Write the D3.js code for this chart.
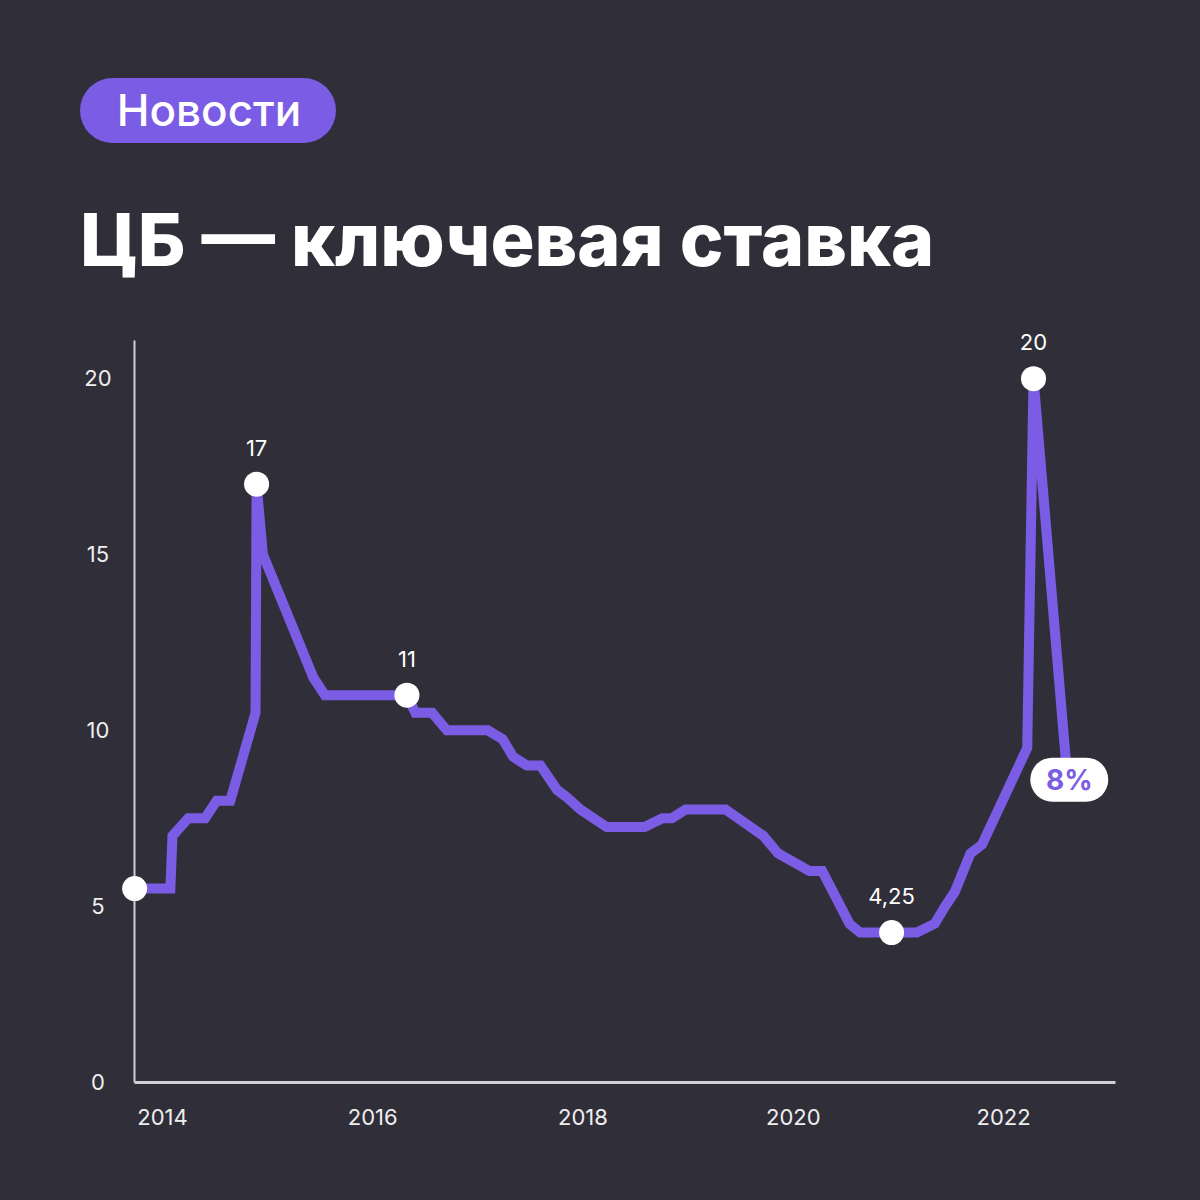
<!DOCTYPE html>
<html>
<head>
<meta charset="utf-8">
<script src="https://cdn.jsdelivr.net/npm/d3@7/dist/d3.min.js"></script>
<style>
  html, body { margin: 0; padding: 0; background: #302f39; }
  svg { display: block; }
</style>
</head>
<body>
<svg id="chart" width="1200" height="1200"></svg>
<script>
// ---- data (decimal year, key rate %) ----
const years = [2013.74, 2014.08, 2014.10, 2014.25, 2014.41, 2014.52, 2014.65, 2014.89, 2014.90,
  2014.96, 2015.44, 2015.55, 2016.33, 2016.41, 2016.57, 2016.71, 2017.10, 2017.24, 2017.34,
  2017.47, 2017.60, 2017.76, 2017.85, 2017.98, 2018.23, 2018.59, 2018.76, 2018.85, 2018.98,
  2019.36, 2019.72, 2019.86, 2020.16, 2020.28, 2020.54, 2020.64, 2020.94, 2021.18, 2021.35,
  2021.45, 2021.54, 2021.69, 2021.80, 2022.23, 2022.29, 2022.63];
const rates = [5.5, 5.5, 7, 7.5, 7.5, 8, 8, 10.5, 17,
  15, 11.5, 11, 11, 10.5, 10.5, 10, 10, 9.75, 9.25,
  9, 9, 8.3, 8.1, 7.75, 7.25, 7.25, 7.5, 7.5, 7.75,
  7.75, 7, 6.5, 6, 6, 4.5, 4.25, 4.25, 4.25, 4.5,
  5, 5.4, 6.5, 6.75, 9.5, 20, 8];
const markerIdx = [0, 8, 12, 36, 44];          // points with white dots
const markerLabels = ["", "17", "11", "4,25", "20"];
const yTicks = [0, 5, 10, 15, 20];
const xTicks = [2014, 2016, 2018, 2020, 2022];
const badgeText = "Новости";
const titleText = "ЦБ — ключевая ставка";
const lastLabel = "8%";

const data = years.map((y, i) => ({ year: y, rate: rates[i] }));

const svg = d3.select("#chart");
const purple = "#7b5ce4";
const fontFam = "Inter, 'Noto Sans', sans-serif";

// background
svg.append("rect").attr("width", 1200).attr("height", 1200).attr("fill", "#302f39");

// badge
const badge = svg.append("g");
badge.append("rect").attr("x", 80).attr("y", 78).attr("width", 256).attr("height", 65)
  .attr("rx", 32.5).attr("fill", purple);
badge.append("text").attr("x", 209).attr("y", 111).attr("dy", "0.35em")
  .attr("text-anchor", "middle").attr("fill", "#fff")
  .style("font-family", fontFam).style("font-weight", 500).style("font-size", "44px")
  .text(badgeText);

// title
svg.append("text").attr("x", 80).attr("y", 266)
  .attr("fill", "#fff")
  .style("font-family", fontFam).style("font-weight", 800).style("font-size", "73.5px")
  .text(titleText);

// scales
const x = d3.scaleLinear().domain([2013.734, 2023.065]).range([134, 1115]);
const y = d3.scaleLinear().domain([0, 21.1]).range([1082, 340]);

// axes
const axisColor = "#cfcfd4";
const gy = svg.append("g").attr("transform", `translate(${x.range()[0]},0)`)
  .call(d3.axisLeft(y).tickValues(yTicks).tickSize(0).tickPadding(0));
gy.select(".domain").attr("stroke", axisColor).attr("stroke-width", 2);
gy.selectAll("text").attr("x", -36).attr("text-anchor", "middle")
  .attr("fill", "#eeeeee")
  .style("font-family", fontFam).style("font-size", "22px").style("font-weight", 400);

const gx = svg.append("g").attr("transform", `translate(0,${y(0)})`)
  .call(d3.axisBottom(x).tickValues(xTicks).tickFormat(d3.format("d")).tickSize(0).tickPadding(0));
gx.select(".domain").attr("stroke", axisColor).attr("stroke-width", 3);
gx.selectAll("text").attr("y", 35).attr("dy", "0.35em")
  .attr("fill", "#eeeeee")
  .style("font-family", fontFam).style("font-size", "22px").style("font-weight", 400);

// line
const line = d3.line().x(d => x(d.year)).y(d => y(d.rate));
svg.append("path").datum(data)
  .attr("d", line)
  .attr("fill", "none")
  .attr("stroke", purple)
  .attr("stroke-width", 10)
  .attr("stroke-linejoin", "miter")
  .attr("stroke-miterlimit", 2);

// markers
const markers = markerIdx.map((idx, k) => ({ d: data[idx], label: markerLabels[k] }));
svg.selectAll("circle.marker").data(markers).join("circle")
  .attr("class", "marker")
  .attr("cx", m => x(m.d.year)).attr("cy", m => y(m.d.rate)).attr("r", 12.5)
  .attr("fill", "#fff");
svg.selectAll("text.mlabel").data(markers.filter(m => m.label)).join("text")
  .attr("class", "mlabel")
  .attr("x", m => x(m.d.year)).attr("y", m => y(m.d.rate) - 36).attr("dy", "0.35em")
  .attr("text-anchor", "middle").attr("fill", "#fff")
  .style("font-family", fontFam).style("font-size", "22px").style("font-weight", 400)
  .text(m => m.label);

// last value pill
const last = data[data.length - 1];
const lx = x(last.year), ly = y(last.rate) - 21;
svg.append("rect").attr("x", lx - 39).attr("y", ly - 22).attr("width", 78).attr("height", 44)
  .attr("rx", 22).attr("fill", "#fff");
svg.append("text").attr("x", lx).attr("y", ly).attr("dy", "0.36em")
  .attr("text-anchor", "middle").attr("fill", purple)
  .style("font-family", fontFam).style("font-weight", 700).style("font-size", "28px")
  .text(lastLabel);
</script>
</body>
</html>
